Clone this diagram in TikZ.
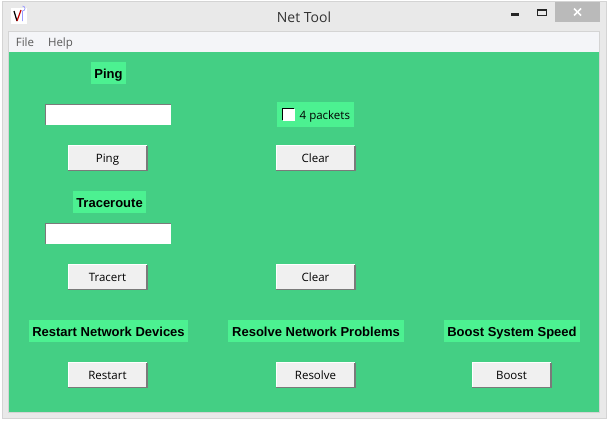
\documentclass[tikz,border=0pt]{standalone}
\usepackage{fontspec}
\setmainfont{Open Sans}
\newfontfamily\labelfont{Liberation Sans}
\definecolor{panelgreen}{HTML}{44CF84}
\definecolor{labelgreen}{HTML}{4CF191}
\definecolor{framegrey}{HTML}{E9E9E9}
\definecolor{edgegrey}{HTML}{D4D4D4}
\definecolor{menugrey}{HTML}{F4F5F8}
\definecolor{closegrey}{HTML}{BABABA}
\definecolor{buttongrey}{HTML}{F0F0F0}
\definecolor{shadegrey}{HTML}{7A7A7A}
\tikzset{
  heading/.style={fill=labelgreen,inner sep=0pt,outer sep=0pt,minimum height=22pt,text height=12pt,text depth=2pt,font=\labelfont\bfseries\fontsize{13}{14}\selectfont,text=black},
  pushbutton/.style={fill=buttongrey,inner sep=0pt,outer sep=0pt,minimum width=79pt,minimum height=25pt,text height=10pt,text depth=2pt,font=\fontsize{11.5}{12}\selectfont,text=black},
  entrybox/.style={fill=white,inner sep=0pt,outer sep=0pt,minimum width=125pt,minimum height=20pt},
  menuitem/.style={inner sep=0pt,anchor=base,font=\fontsize{11.5}{12}\selectfont,text=black!65}
}
\begin{document}
\begin{tikzpicture}[x=1pt,y=-1pt]
\useasboundingbox(0,0)rectangle(608,421);
\fill[white](0,0)rectangle(608,421);
% window
\draw[edgegrey,fill=framegrey](2,1.5)rectangle(606,418);
\draw[edgegrey,fill=menugrey](8.5,31.5)rectangle(599.5,52);
\fill[panelgreen](9,52)rectangle(599,412);
\draw[edgegrey](8.5,52)--(8.5,412.5)--(599.5,412.5)--(599.5,52);
% title bar
\node[inner sep=0pt,fill=white,minimum size=16pt] (icon) at (19,16){};
\draw[black,line width=1.2pt](14,11)--(17,21);
\draw[red!75!black,line width=1.2pt](17,21)--(21,10);
\draw[blue!40,line width=.7pt](22.5,21)--(22.5,11)arc[start angle=90,end angle=-90,radius=2.5];
\node[inner sep=0pt,anchor=base,font=\fontsize{14}{15}\selectfont,text=black!80] (title) at (304,22){Net Tool};
\node[fill=closegrey,inner sep=0pt,minimum width=45pt,minimum height=20pt] (close) at (577.5,12){};
\draw[white,line width=1.5pt](574,8.5)--(581,15.5);
\draw[white,line width=1.5pt](574,15.5)--(581,8.5);
\fill[black!85](511,13)rectangle(519,16);
\draw[black!85,line width=1pt](537.5,9)rectangle(546.5,15.5);
\draw[black!85,line width=2pt](537.5,9.5)--(546.5,9.5);
% menu
\node[menuitem] (file) at (25,46){File};
\node[menuitem] (help) at (60.5,46){Help};
% labels
\node[heading,minimum width=35pt] (pinglabel) at (108.5,73){Ping};
\node[heading,minimum width=73pt] (tracelabel) at (109.5,202){Traceroute};
\node[heading,minimum width=159pt] (restartlabel) at (108.5,331){Restart Network Devices};
\node[heading,minimum width=176pt] (resolvelabel) at (316,331){Resolve Network Problems};
\node[heading,minimum width=136pt] (boostlabel) at (512,331){Boost System Speed};
% entries
\node[entrybox] (pingentry) at (108,114.5){};
\node[entrybox] (traceentry) at (108,233.5){};
% check button
\node[fill=labelgreen,inner sep=0pt,minimum width=77pt,minimum height=25pt] (packets) at (315.5,114.5){};
\node[inner sep=0pt,font=\fontsize{11.5}{12}\selectfont,text=black,anchor=base west] (packetstext) at (299.5,119){4 packets};
\node[fill=white,inner sep=0pt,minimum size=11pt] (packetsbox) at (288.5,114.5){};
% buttons
\node[pushbutton] (pingbutton) at (107.5,158){Ping};
\node[pushbutton] (clearone) at (315.5,158){Clear};
\node[pushbutton] (tracebutton) at (107.5,277){Tracert};
\node[pushbutton] (cleartwo) at (315.5,277){Clear};
\node[pushbutton] (restartbutton) at (107.5,375){Restart};
\node[pushbutton] (resolvebutton) at (315.5,375){Resolve};
\node[pushbutton] (boostbutton) at (511.5,375){Boost};
\foreach \b in {pingbutton,clearone,tracebutton,cleartwo,restartbutton,resolvebutton,boostbutton}{
  \draw[white,line width=1pt](\b.south west)--(\b.north west)--(\b.north east);
  \draw[shadegrey,line width=1.5pt](\b.south west)--(\b.south east)--(\b.north east);
}
\foreach \e in {pingentry,traceentry,packetsbox}{
  \draw[shadegrey,line width=1pt](\e.south west)--(\e.north west)--(\e.north east);
  \draw[white,line width=1pt](\e.south west)--(\e.south east)--(\e.north east);
}
\draw[black,line width=1pt](packetsbox.south west)--(packetsbox.north west)--(packetsbox.north east);
\end{tikzpicture}
\end{document}
